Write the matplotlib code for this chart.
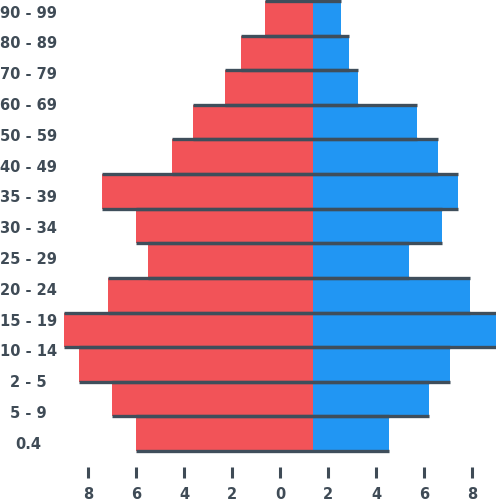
import matplotlib.pyplot as plt

# age groups (top to bottom) and bar lengths
age_labels = ["90 - 99", "80 - 89", "70 - 79", "60 - 69", "50 - 59", "40 - 49",
              "35 - 39", "30 - 34", "25 - 29", "20 - 24", "15 - 19", "10 - 14",
              "2 - 5", "5 - 9", "0.4"]
left_vals = [1.98, 2.98, 3.65, 4.98, 5.85, 8.77, 7.35, 6.85, 8.52, 10.35, 9.73, 8.35, 7.35]
right_vals = [1.19, 1.52, 1.90, 4.35, 5.23, 6.06, 5.40, 4.02, 6.56, 7.65, 5.73, 4.85, 3.19]
tick_vals = [-8, -6, -4, -2, 0, 2, 4, 6, 8]

RED = "#f25358"
BLUE = "#2196f3"
EDGE = "#3f4e5b"
TXT = "#3f4b56"

fig = plt.figure(figsize=(4.96, 5.0), dpi=100)
rect = [0, 33 / 500, 1, 467 / 500]

# bars
ax = fig.add_axes(rect)
ypos = list(range(len(left_vals)))
ax.barh(ypos, [-v for v in left_vals], height=1.0, color=RED, linewidth=0)
ax.barh(ypos, right_vals, height=1.0, color=BLUE, linewidth=0)
for y, l, r in zip(ypos, left_vals, right_vals):
    ax.hlines([y - 0.5, y + 0.5], -l, r, color=EDGE, linewidth=2.4, zorder=3)
ax.set_xlim(-312.5 / 24, 183.5 / 24)
ax.set_ylim(12.5 + 16 / 34.6, -0.5 - 1 / 34.6)
ax.axis("off")

# overlay for the age labels and the x ticks
lab = fig.add_axes(rect, frameon=False)
lab.patch.set_visible(False)
lab.set_xlim(-280 / 24, 216 / 24)
lab.set_ylim((467 - 11.5) / 30.8, -11.5 / 30.8)
lab.set_yticks(range(len(age_labels)))
lab.set_yticklabels(age_labels, ha="center")
lab.tick_params(axis="y", length=0, pad=-20.5, labelsize=10.5, labelcolor=TXT)
lab.set_xticks(tick_vals)
lab.set_xticklabels([str(abs(t)) for t in tick_vals])
lab.tick_params(axis="x", direction="out", length=7.9, width=2.2, color=TXT,
                pad=6.5, labelsize=10.5, labelcolor=TXT)
for t in lab.get_xticklabels() + lab.get_yticklabels():
    t.set_fontweight("bold")

fig.savefig("out.png", dpi=100)
